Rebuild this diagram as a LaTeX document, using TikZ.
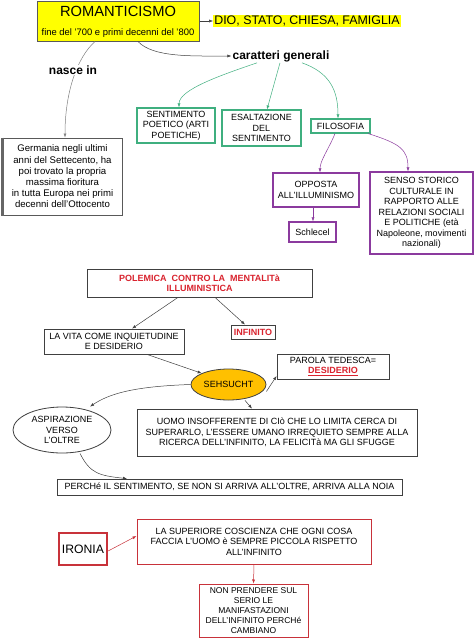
\documentclass[tikz,border=0pt]{standalone}
\usepackage{fontspec}
\setmainfont{Liberation Sans}
\usetikzlibrary{arrows.meta,shapes.geometric}
\definecolor{ygold}{HTML}{FFC000}
\definecolor{yel}{HTML}{FFFF00}
\definecolor{grn}{HTML}{3FAF7F}
\definecolor{purp}{HTML}{8B3A9E}
\definecolor{redt}{HTML}{D9232E}
\definecolor{redb}{HTML}{C8323A}
\definecolor{boxg}{HTML}{404040}
\newcommand\myfs[2]{\fontsize{#1}{#2}\selectfont}
\begin{document}
\begin{tikzpicture}[x=1pt,y=-1pt,
  box/.style={draw=boxg, line width=0.8pt, align=center, inner sep=1pt, font=\myfs{9}{10.5}},
  gbox/.style={box, draw=grn, line width=1.1pt},
  pbox/.style={box, draw=purp, line width=1.1pt},
  rbox/.style={box, draw=redb, line width=1pt},
  arr/.style={-{Latex[length=4pt,width=3pt]}, line width=0.5pt, draw=boxg},
  garr/.style={arr, draw=grn},
  parr/.style={arr, draw=purp},
  rarr/.style={arr, draw=redb},
  lbl/.style={inner sep=1pt, font=\bfseries\myfs{12}{14}}]
\useasboundingbox (0,0) rectangle (474,640);
\fill[white] (0,0) rectangle (474,640);

% top
\node[box, fill=yel, draw=gray!70!black, line width=1pt, minimum width=162pt, minimum height=40pt, text depth=0pt] (rom) at (118,21)
  {{\myfs{14.7}{16}ROMANTICISMO}\\[8pt]{\myfs{9.4}{11}fine del '700 e primi decenni del '800}};
\node[fill=yel, inner sep=1pt, font=\myfs{12.4}{14}] (dio) at (307,21) {DIO, STATO, CHIESA, FAMIGLIA};
\node[lbl] (car) at (281,56) {caratteri generali};

\node[box, draw=gray!70!black, line width=1pt, minimum width=119pt, minimum height=77pt, font=\myfs{9.6}{11.2}] (germ) at (62.5,176.5)
  {Germania negli ultimi\\anni del Settecento, ha\\poi trovato la propria\\massima fioritura\\in tutta Europa nei primi\\decenni dell'Ottocento};
\draw[line width=2.5pt, gray!80!black] (germ.north west) -- (germ.south west);

\node[gbox, minimum width=78pt, minimum height=35pt] (sent) at (176,125.5) {SENTIMENTO\\POETICO (ARTI\\POETICHE)};
\node[gbox, minimum width=79pt, minimum height=36pt] (esal) at (261.5,128) {ESALTAZIONE\\DEL\\SENTIMENTO};
\node[gbox, minimum width=59pt, minimum height=14pt] (filo) at (340.5,126) {FILOSOFIA};
\node[pbox, minimum width=86pt, minimum height=34pt] (opp) at (316,190) {OPPOSTA\\ALL'ILLUMINISMO};
\node[pbox, minimum width=47pt, minimum height=20pt] (schl) at (312.5,232) {Schlecel};
\node[pbox, minimum width=103pt, minimum height=82pt] (sen) at (421.5,213)
  {SENSO STORICO\\CULTURALE IN\\RAPPORTO ALLE\\RELAZIONI SOCIALI\\E POLITICHE (età\\Napoleone, movimenti\\nazionali)};

% connectors top
\draw[arr] (rom.east) -- (dio.west);
\draw[arr] ([xshift=20pt]rom.south) .. controls +(15,16) and +(-40,0) .. (car.west);
\draw[arr, draw=gray] ([xshift=-23pt]rom.south) .. controls +(-18,16) and +(0,-45) .. ([xshift=2.5pt]germ.north);
\node[lbl, fill=white] (nas) at (73,70) {nasce in};
\draw[garr] ([xshift=-24pt]car.south) .. controls +(-35,12) and +(0,-18) .. ([xshift=3pt]sent.north);
\draw[garr] ([xshift=-1pt]car.south) -- ([xshift=5.5pt]esal.north);
\draw[garr] ([xshift=21pt]car.south) .. controls +(28,10) and +(0,-28) .. ([xshift=-2.5pt]filo.north);
\draw[parr] ([xshift=-5.5pt]filo.south) .. controls +(-6,15) and +(0,-12) .. ([xshift=4pt]opp.north);
\draw[parr] ([xshift=27.5pt]filo.south) .. controls +(32,10) and +(0,-22) .. ([xshift=-13.5pt]sen.north);
\draw[parr] ([xshift=-3pt]opp.south) -- ([xshift=0.5pt]schl.north);

% middle
\node[box, minimum width=225pt, minimum height=28pt, text=redt, font=\bfseries\myfs{9}{10.5}] (pol) at (199.5,283)
  {POLEMICA\ \ CONTRO LA\ \ MENTALITà\\ILLUMINISTICA};
\node[box, minimum width=140pt, minimum height=25pt] (vita) at (114,341.5) {LA VITA COME INQUIETUDINE\\E DESIDERIO};
\node[box, minimum width=44pt, minimum height=14pt, text=redt, font=\bfseries\myfs{9}{10.5}] (inf) at (253,332) {INFINITO};
\node[ellipse, draw=boxg, line width=0.8pt, fill=ygold, minimum width=75pt, minimum height=31pt, inner sep=0pt, font=\myfs{9}{10.5}] (seh) at (228.5,384.5) {SEHSUCHT};
\node[box, minimum width=112pt, minimum height=25pt] (par) at (333,366.5)
  {PAROLA TEDESCA=\\{\color{redt}\bfseries\underline{DESIDERIO}}};
\node[ellipse, draw=boxg, line width=0.8pt, minimum width=98pt, minimum height=46pt, inner sep=0pt, align=center, font=\myfs{9}{10.5}] (asp) at (62,430) {ASPIRAZIONE\\VERSO\\L'OLTRE};
\node[box, minimum width=280pt, minimum height=47pt] (uomo) at (277,432.5)
  {UOMO INSOFFERENTE DI CIò CHE LO LIMITA CERCA DI\\SUPERARLO, L'ESSERE UMANO IRREQUIETO SEMPRE ALLA\\RICERCA DELL'INFINITO, LA FELICITà MA GLI SFUGGE};
\node[box, minimum width=345pt, minimum height=16pt] (perc) at (229.5,487)
  {PERCHé IL SENTIMENTO, SE NON SI ARRIVA ALL'OLTRE, ARRIVA ALLA NOIA};

\draw[arr] ([xshift=-21.5pt]pol.south) -- ([xshift=18pt]vita.north);
\draw[arr] ([xshift=15.5pt]pol.south) -- ([xshift=-8pt]inf.north);
\draw[arr] ([xshift=33pt]vita.south) -- (seh.north west);
\draw[arr] ([yshift=-7pt]seh.east) -- ([yshift=-9.5pt]par.west);
\draw[arr] (seh.west) .. controls +(-60,2) and +(18,-12) .. ([xshift=28pt]asp.north);
\draw[arr] ([xshift=16.5pt]seh.south) -- ([xshift=-25pt]uomo.north);
\draw[arr] ([xshift=18pt]asp.south) .. controls +(10,20) and +(-28,-3) .. ([xshift=-102.5pt]perc.north);

% bottom
\node[box, draw=redb, line width=2.2pt, minimum width=48pt, minimum height=32pt, font=\myfs{12.2}{14}] (iron) at (83,549) {IRONIA};
\node[rbox, minimum width=234pt, minimum height=45pt] (sup) at (254,541.5)
  {LA SUPERIORE COSCIENZA CHE OGNI COSA\\FACCIA L'UOMO è SEMPRE PICCOLA RISPETTO\\ALL'INFINITO};
\node[rbox, minimum width=109pt, minimum height=53pt, font=\myfs{8.5}{10}] (nonp) at (253.5,610.5)
  {NON PRENDERE SUL\\SERIO LE\\MANIFASTAZIONI\\DELL'INFINITO PERCHé\\CAMBIANO};
\draw[rarr] ([yshift=-2pt]iron.east) -- ([yshift=5.5pt]sup.west);
\draw[rarr] (sup.south) -- (nonp.north);
\end{tikzpicture}
\end{document}
